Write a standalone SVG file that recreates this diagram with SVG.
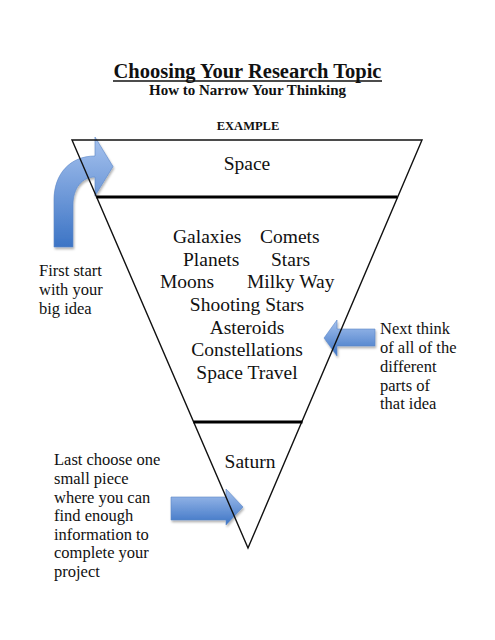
<svg xmlns="http://www.w3.org/2000/svg" width="495" height="640" viewBox="0 0 495 640">
<defs>
<linearGradient id="blueV" x1="0" y1="0" x2="0" y2="1">
<stop offset="0" stop-color="#a6c2ee"/>
<stop offset="1" stop-color="#3c74c5"/>
</linearGradient>
<filter id="sh" x="-20%" y="-20%" width="140%" height="150%">
<feDropShadow dx="1" dy="2" stdDeviation="1.2" flood-color="#000" flood-opacity="0.3"/>
</filter>
</defs>
<style>
.t{font-family:"Liberation Serif","Times New Roman",serif;fill:#111}
.b{font-weight:bold}
.body{font-size:19.5px}
.side{font-size:16.5px}
.arrow{fill:url(#blueV);stroke:#5a86c8;stroke-width:0.6;filter:url(#sh)}
.edge{fill:none;stroke:#111;stroke-width:1.4}
.div{stroke:#000;stroke-width:3}
</style>
<rect width="495" height="640" fill="#fff"/>

<g id="title">
<text class="t b" x="247.5" y="78" font-size="20.5" text-anchor="middle">Choosing Your Research Topic</text>
<line x1="113" y1="81" x2="382" y2="81" stroke="#111" stroke-width="1.3"/>
<text class="t b" x="247.5" y="95" font-size="15" text-anchor="middle">How to Narrow Your Thinking</text>
<text class="t b" x="248" y="130" font-size="12.5" text-anchor="middle">EXAMPLE</text>
</g>

<g id="connectors">
<path id="arrow-first" class="arrow" d="M54 247 L54 200 C54 174 70 156 95 156 L95 137 L113 166.5 L95 196 L95 177 C82 177 73 188 73 205 L73 247 Z"/>
<path id="arrow-next" class="arrow" d="M375 329 L337 329 L337 320 L324 338 L337 356 L337 346 L375 346 Z"/>
<path id="arrow-last" class="arrow" d="M171 497 L226 497 L226 489 L243 507 L226 525 L226 520 L171 520 Z"/>
</g>

<g id="funnel">
<polygon class="edge" points="72,140 422,140 248,548"/>
<line class="div" x1="96.5" y1="197" x2="397.5" y2="197"/>
<line class="div" x1="193.5" y1="422" x2="302.5" y2="422"/>
</g>

<g id="node-space">
<text class="t body" x="247" y="170" text-anchor="middle">Space</text>
</g>

<g id="node-parts">
<text class="t body" x="173" y="243">Galaxies</text>
<text class="t body" x="260" y="243">Comets</text>
<text class="t body" x="183" y="265.5">Planets</text>
<text class="t body" x="271" y="265.5">Stars</text>
<text class="t body" x="160" y="288">Moons</text>
<text class="t body" x="247" y="288">Milky Way</text>
<text class="t body" x="247" y="311" text-anchor="middle">Shooting Stars</text>
<text class="t body" x="247" y="333.5" text-anchor="middle">Asteroids</text>
<text class="t body" x="247" y="356" text-anchor="middle">Constellations</text>
<text class="t body" x="247" y="379" text-anchor="middle">Space Travel</text>
</g>

<g id="node-saturn">
<text class="t body" x="250" y="468" text-anchor="middle">Saturn</text>
</g>

<g id="label-first">
<text class="t side" x="39" y="276">First start</text>
<text class="t side" x="39" y="295">with your</text>
<text class="t side" x="39" y="314">big idea</text>
</g>

<g id="label-next">
<text class="t side" x="380" y="334">Next think</text>
<text class="t side" x="380" y="353">of all of the</text>
<text class="t side" x="380" y="372">different</text>
<text class="t side" x="380" y="390.5">parts of</text>
<text class="t side" x="380" y="409">that idea</text>
</g>

<g id="label-last">
<text class="t side" x="54" y="465">Last choose one</text>
<text class="t side" x="54" y="484">small piece</text>
<text class="t side" x="54" y="502.5">where you can</text>
<text class="t side" x="54" y="521">find enough</text>
<text class="t side" x="54" y="539.5">information to</text>
<text class="t side" x="54" y="558">complete your</text>
<text class="t side" x="54" y="576.5">project</text>
</g>
</svg>
